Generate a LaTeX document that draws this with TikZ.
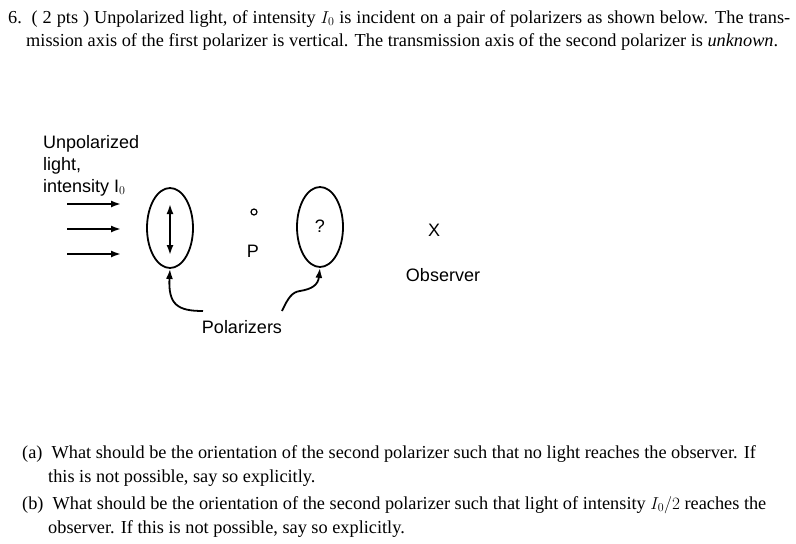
\documentclass[tikz,border=0pt]{standalone}
\usepackage{fontspec}
\setmainfont{Liberation Serif}
\setsansfont{Liberation Sans}
\usetikzlibrary{shapes.geometric,arrows.meta}
\newcommand{\jline}[2]{\hbox to #1pt{\spaceskip=0.25em plus 1em minus 0.15em #2}}
\begin{document}
\begin{tikzpicture}[x=1pt,y=-1pt,
  txt/.style={anchor=base west,inner sep=0pt,font=\fontsize{18.3}{20}\selectfont},
  lab/.style={inner sep=0pt,font=\sffamily\fontsize{18}{20}\selectfont},
  pol/.style={draw,line width=1.8pt,ellipse,minimum width=46pt,minimum height=80pt,inner sep=0pt},
  arr/.style={line width=1.8pt,-{Latex[length=10pt,width=7pt]}}]
\useasboundingbox (0,0) rectangle (796,544);
\node[txt] (t1) at (8,23) {\jline{782}{6.\ \ ( 2 pts ) Unpolarized light, of intensity $I_0$ is incident on a pair of polarizers as shown below. The trans-}};
\node[txt] (t2) at (26,46) {\jline{752}{mission axis of the first polarizer is vertical. The transmission axis of the second polarizer is \textit{unknown}.}};
\node[lab,anchor=base west] (u1) at (43,148) {Unpolarized};
\node[lab,anchor=base west] (u2) at (43,170) {light,};
\node[lab,anchor=base west] (u3) at (43,192) {intensity I$_0$};
\foreach \y/\n in {204/a,229/b,254/c}{
  \coordinate (s\n) at (67,\y); \coordinate (e\n) at (121,\y);
  \draw[arr] (s\n) -- (e\n);}
\node[pol] (p1) at (170,228) {};
\coordinate (d1) at (170,204); \coordinate (d2) at (170,255);
\draw[line width=1.8pt,{Latex[length=10pt,width=7pt]}-{Latex[length=10pt,width=7pt]}] (d1) -- (d2);
\node[draw,circle,line width=1.2pt,minimum size=6pt,inner sep=0pt] (pc) at (254,212) {};
\node[lab] (P) at (253,251) {P};
\node[pol] (p2) at (320,227) {};
\node[lab] (q) at (320,226) {?};
\node[lab] (X) at (434,230) {X};
\node[lab] (obs) at (443,275) {Observer};
\node[lab] (polz) at (242,327) {Polarizers};
\coordinate (c1s) at (203,311);
\draw[arr] (c1s) .. controls (178,311) and (168,305) .. (p1.south);
\coordinate (c2s) at (282,311);
\draw[arr] (c2s) .. controls (288,298) and (292,292) .. (300,291) .. controls (312,289) and (318,285) .. (p2.south);
\node[txt] (a1) at (22,458) {(a)\ \ What should be the orientation of the second polarizer such that no light reaches the observer. If};
\node[txt] (a2) at (48,482) {this is not possible, say so explicitly.};
\node[txt] (b1) at (22,509) {(b)\ \ What should be the orientation of the second polarizer such that light of intensity $I_0/2$ reaches the};
\node[txt] (b2) at (48,533) {observer. If this is not possible, say so explicitly.};
\end{tikzpicture}
\end{document}
